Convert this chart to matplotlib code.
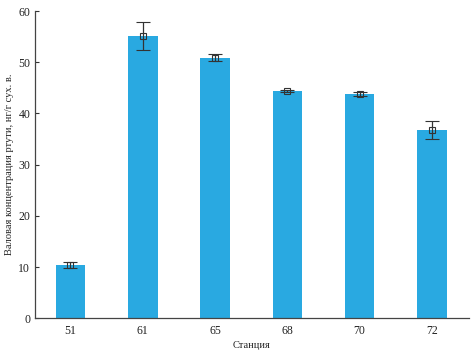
import matplotlib
matplotlib.use("Agg")
import matplotlib.pyplot as plt

stations = ["51", "61", "65", "68", "70", "72"]
hg_conc = [10.4, 55.1, 50.9, 44.45, 43.8, 36.8]
hg_err = [0.65, 2.8, 0.65, 0.2, 0.3, 1.75]

plt.rcParams['font.family'] = ['Liberation Serif', 'DejaVu Serif']
plt.rcParams['font.size'] = 8.5

fig = plt.figure(figsize=(4.74, 3.55), dpi=100)
ax = fig.add_axes([0.074, 0.103, 0.915, 0.866])

x = range(len(stations))
ax.bar(x, hg_conc, width=0.41, color='#29a9e1', zorder=2)
ax.errorbar(x, hg_conc, yerr=hg_err, fmt='s', mfc='none', mec='#333333',
            ms=4, mew=0.8, ecolor='#333333', elinewidth=0.9, capsize=5,
            capthick=0.9, zorder=3)

ax.set_xlim(-0.49, 5.51)
ax.set_ylim(0, 60)
ax.set_xticks(list(x))
ax.set_xticklabels(stations)
ax.set_yticks(range(0, 61, 10))
ax.tick_params(direction='in', length=3, width=0.8, colors='#333333', labelcolor='#222222')
ax.tick_params(axis='x', pad=5)
for s in ['top', 'right']:
    ax.spines[s].set_visible(False)
for s in ['left', 'bottom']:
    ax.spines[s].set_color('#444444')
    ax.spines[s].set_linewidth(0.9)

ax.set_xlabel("Станция", color='#222222', fontsize=7.5, va='center')
ax.set_ylabel("Валовая концентрация ртути, нг/г сух. в.", color='#222222',
              fontsize=7.5, va='center')
ax.xaxis.set_label_coords(0.5, -0.089)
ax.yaxis.set_label_coords(-0.06, 0.5)

fig.savefig("out.png", dpi=100)
